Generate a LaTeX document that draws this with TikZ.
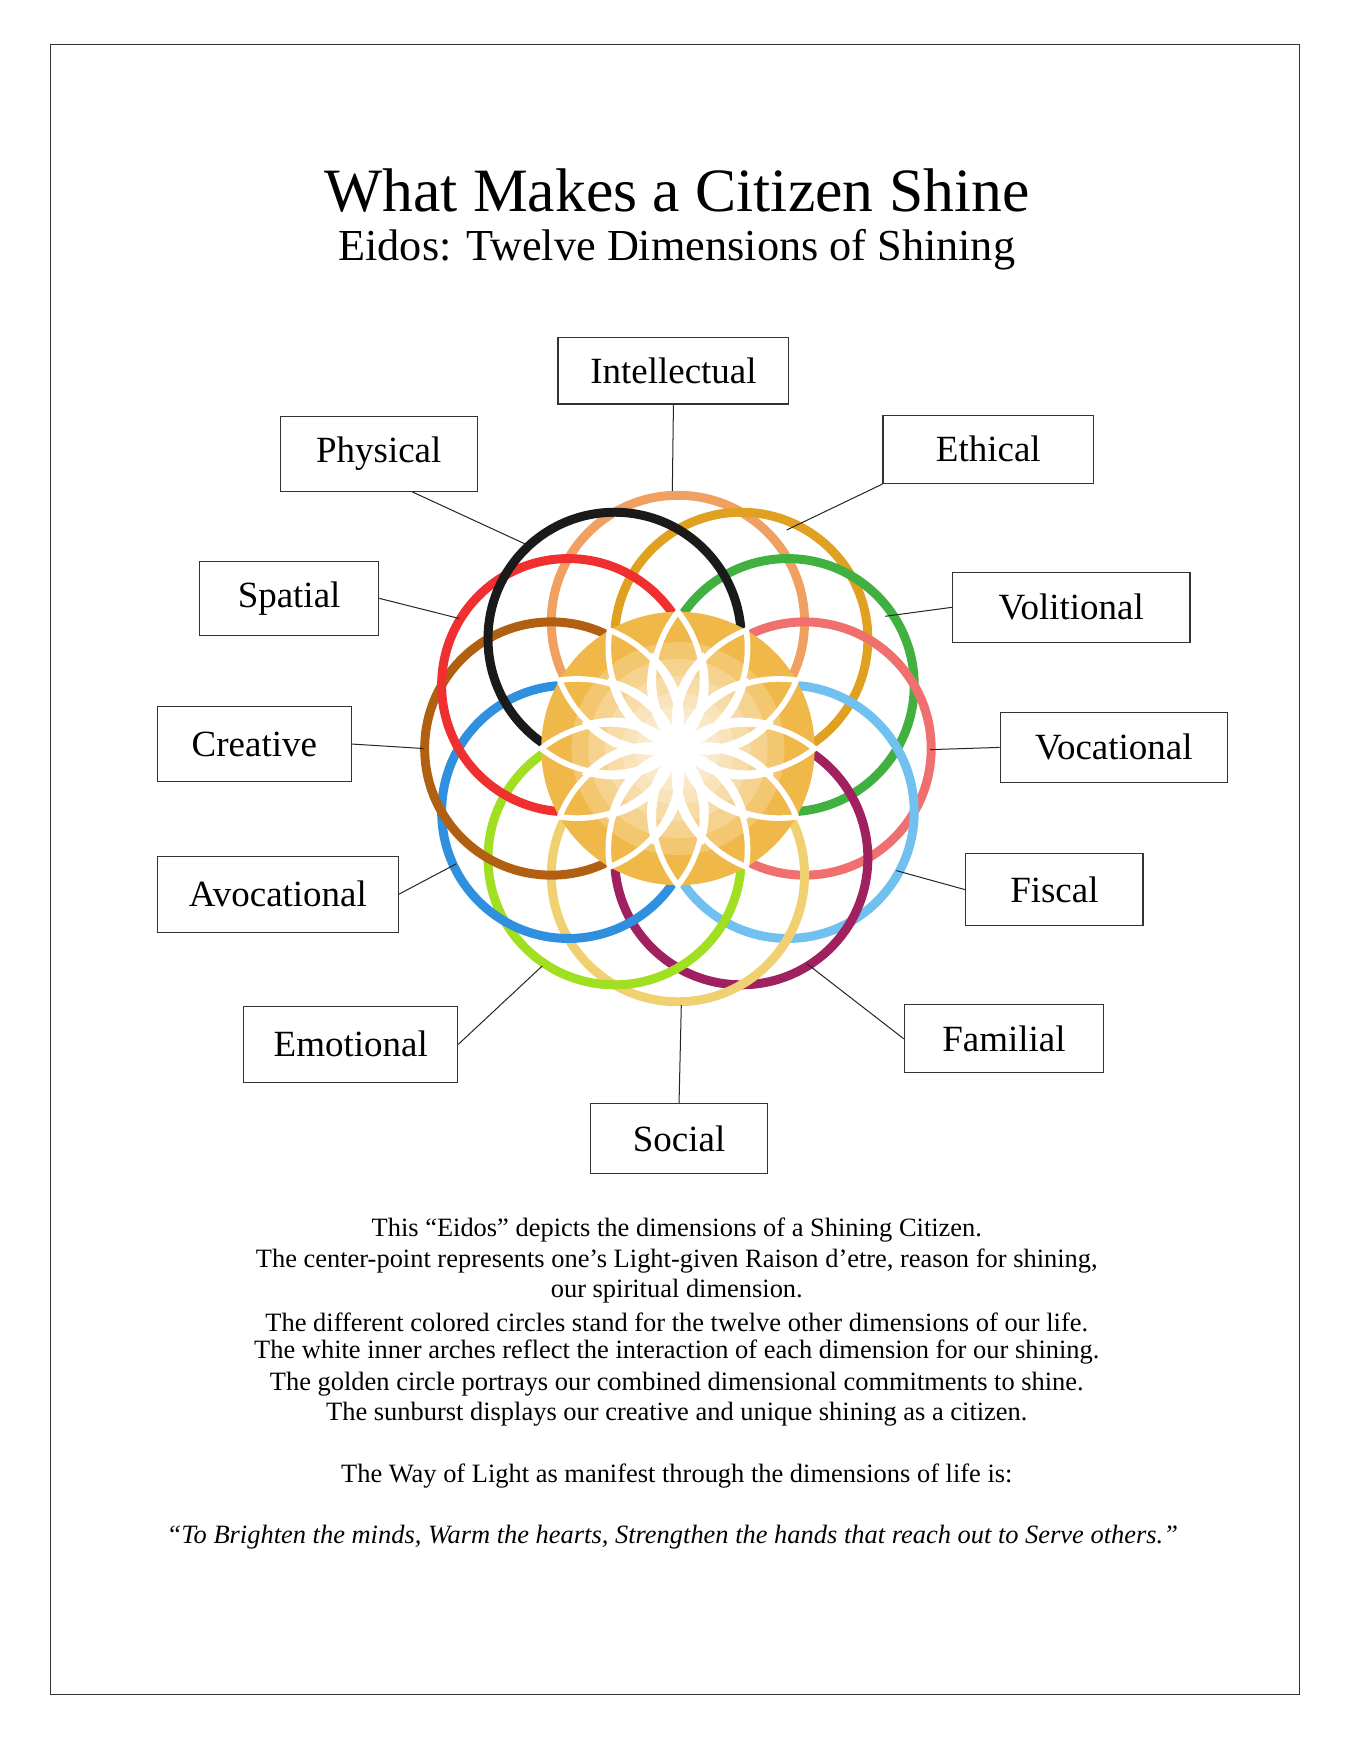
\documentclass[tikz,border=0pt]{standalone}
\usepackage{fontspec}
\setmainfont{Liberation Serif}
\usetikzlibrary{calc}
\begin{document}
\begin{tikzpicture}[x=1pt,y=-1pt,
  lab/.style={draw=black!80,line width=1pt,font=\fontsize{33}{36}\selectfont,inner sep=0pt,anchor=center},
  con/.style={draw=black!85,line width=0.9pt},
  ring/.style={line width=8pt},
  body/.style={font=\fontsize{23.6}{25}\selectfont,anchor=center}]
\useasboundingbox (0,0) rectangle (1212,1568);
\draw[black!80,line width=1pt] (45,40) rectangle (1160,1512);
\node[font=\fontsize{55}{58}\selectfont] (t) at (604,170) {What Makes a Citizen Shine};
\node[font=\fontsize{39.5}{42}\selectfont] (st) at (604,223) {Eidos: Twelve Dimensions of Shining};
% rings
\coordinate (c) at (605,668);
\definecolor{r90}{HTML}{F0A060}\definecolor{r60}{HTML}{E0A020}
\definecolor{r30}{HTML}{40B040}\definecolor{r0}{HTML}{F07070}
\definecolor{rm30}{HTML}{70C0F0}\definecolor{rm60}{HTML}{A02060}
\definecolor{rm90}{HTML}{F0D070}\definecolor{rm120}{HTML}{A0E020}
\definecolor{rm150}{HTML}{3090E0}\definecolor{r180}{HTML}{B06010}
\definecolor{r150}{HTML}{F03030}\definecolor{r120}{HTML}{1A1A1A}
\definecolor{gold}{HTML}{F0B848}
\foreach \a/\col in {90/r90,60/r60,30/r30,0/r0,-30/rm30,-60/rm60,-90/rm90,-120/rm120,-150/rm150,180/r180,150/r150,120/r120}{
  \draw[ring,\col] ($(c)+(-\a:113)$) circle[radius=113];
}
\fill[gold] (c) circle[radius=122];
\foreach \r in {95,80,65,50,38,28}{
  \fill[white,opacity=0.22] (c) circle[radius=\r];
}
\fill[white] (c) circle[radius=20];
\foreach \a in {0,30,...,330}{
  \draw[white,line width=5pt] (c) to[bend left=38] ($(c)+(\a:122)$) to[bend left=38] (c);
}
\foreach \a in {15,45,...,345}{
  \draw[white,line width=4pt] (c) to[bend left=30] ($(c)+(\a:85)$) to[bend left=30] (c);
}
% boxes
\node[lab,minimum width=206,minimum height=59] (int) at (601,331) {Intellectual};
\node[lab,minimum width=176,minimum height=67] (phy) at (338,405) {Physical};
\node[lab,minimum width=188,minimum height=61] (eth) at (882,401) {Ethical};
\node[lab,minimum width=160,minimum height=66] (spa) at (258,534) {Spatial};
\node[lab,minimum width=212,minimum height=62] (vol) at (956,542) {Volitional};
\node[lab,minimum width=173,minimum height=67] (cre) at (227,664) {Creative};
\node[lab,minimum width=203,minimum height=62] (voc) at (994,667) {Vocational};
\node[lab,minimum width=215,minimum height=68] (avo) at (248,798) {Avocational};
\node[lab,minimum width=158,minimum height=64] (fis) at (941,794) {Fiscal};
\node[lab,minimum width=191,minimum height=68] (emo) at (313,932) {Emotional};
\node[lab,minimum width=178,minimum height=61] (fam) at (896,927) {Familial};
\node[lab,minimum width=158,minimum height=62] (soc) at (606,1016) {Social};
\coordinate (pint) at (600,438); \coordinate (pphy) at (472,487);
\coordinate (peth) at (702,473); \coordinate (pspa) at (410,552);
\coordinate (pvol) at (790,550); \coordinate (pcre) at (378,668);
\coordinate (pvoc) at (830,669); \coordinate (pavo) at (407,771);
\coordinate (pfis) at (800,777); \coordinate (pemo) at (484,862);
\coordinate (pfam) at (720,860); \coordinate (psoc) at (608,897);
\coordinate (a1) at (368,439);
\draw[con] (int.south) -- (pint);
\draw[con] (a1) -- (pphy);
\draw[con] (eth.south west) -- (peth);
\draw[con] (spa.east) -- (pspa);
\draw[con] (vol.west) -- (pvol);
\draw[con] (cre.east) -- (pcre);
\draw[con] (voc.west) -- (pvoc);
\draw[con] (avo.east) -- (pavo);
\draw[con] (fis.west) -- (pfis);
\draw[con] (emo.east) -- (pemo);
\draw[con] (fam.west) -- (pfam);
\draw[con] (soc.north) -- (psoc);
% text
\node[body] (l1) at (604,1098) {This “Eidos” depicts the dimensions of a Shining Citizen.};
\node[body] (l2) at (604,1125) {The center-point represents one’s Light-given Raison d’etre, reason for shining,};
\node[body] (l3) at (604,1152) {our spiritual dimension.};
\node[body] (l4) at (604,1180) {The different colored circles stand for the twelve other dimensions of our life.};
\node[body] (l5) at (604,1207) {The white inner arches reflect the interaction of each dimension for our shining.};
\node[body] (l6) at (604,1235) {The golden circle portrays our combined dimensional commitments to shine.};
\node[body] (l7) at (604,1262) {The sunburst displays our creative and unique shining as a citizen.};
\node[body] (l8) at (604,1317) {The Way of Light as manifest through the dimensions of life is:};
\node[body,font=\fontsize{23.6}{25}\selectfont\itshape] (l9) at (600,1372) {“To Brighten the minds, Warm the hearts, Strengthen the hands that reach out to Serve others.”};
\end{tikzpicture}
\end{document}
